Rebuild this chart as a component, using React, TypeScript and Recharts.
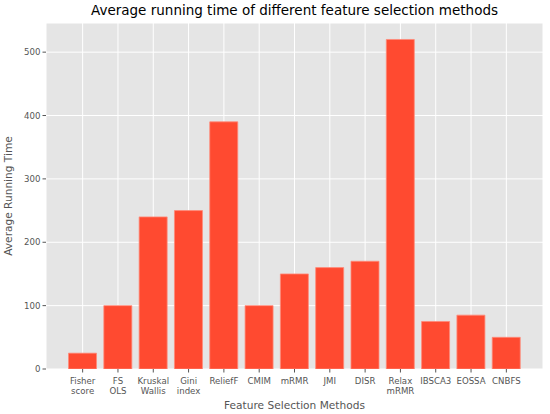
import React from 'react';
import { BarChart, Bar, XAxis, YAxis, CartesianGrid, Label } from 'recharts';

const methods = [
  'Fisher\nscore', 'FS\nOLS', 'Kruskal\nWallis', 'Gini\nindex', 'ReliefF', 'CMIM', 'mRMR',
  'JMI', 'DISR', 'Relax\nmRMR', 'IBSCA3', 'EOSSA', 'CNBFS',
];
const runningTimes = [25, 100, 240, 250, 390, 100, 150, 160, 170, 520, 75, 85, 50];
const yTicks = [0, 100, 200, 300, 400, 500];

const data = methods.map((m, i) => ({ method: m, time: runningTimes[i] }));

const FONT = '"DejaVu Sans", sans-serif';

const XTick = (props: any) => {
  const { x, y, payload } = props;
  const lines = String(payload.value).split('\n');
  return (
    <g transform={`translate(${x},${y})`}>
      <text x={0} y={0} textAnchor="middle" fill="#555555" fontSize={8.6} fontFamily={FONT}>
        {lines.map((l, i) => (
          <tspan key={i} x={0} dy={i === 0 ? 9 : 10.2}>{l}</tspan>
        ))}
      </text>
    </g>
  );
};

export default function App() {
  return (
    <div style={{ position: 'absolute', left: 0, top: 0, width: 550, height: 414, background: '#fff' }}>
      <div
        style={{
          position: 'absolute', left: 46, width: 497, top: 2, textAlign: 'center',
          fontFamily: FONT, fontSize: 13.5, color: '#000',
        }}
      >
        Average running time of different feature selection methods
      </div>
      <BarChart
        width={550}
        height={414}
        data={data}
        margin={{ top: 23, right: 7, bottom: 0, left: 0 }}
        barCategoryGap="10%"
      >
        <CartesianGrid fill="#E5E5E5" stroke="#ffffff" strokeWidth={1} />
        <XAxis
          dataKey="method"
          height={45}
          interval={0}
          padding={{ left: 19, right: 19 }}
          axisLine={false}
          tickLine={{ stroke: '#555555' }}
          tickSize={3.5}
          tick={<XTick />}
        >
          <Label value="Feature Selection Methods" position="insideBottom" offset={5}
            style={{ fontFamily: FONT, fontSize: 10.6, fill: '#555555' }} />
        </XAxis>
        <YAxis
          width={46}
          domain={[0, 546]}
          ticks={yTicks}
          allowDataOverflow
          axisLine={false}
          tickLine={{ stroke: '#555555' }}
          tickSize={3.5}
          tick={{ fill: '#555555', fontSize: 8.6, fontFamily: FONT }}
        >
          <Label value="Average Running Time" angle={-90} position="insideLeft" offset={8}
            style={{ textAnchor: 'middle', fontFamily: FONT, fontSize: 10.6, fill: '#555555' }} />
        </YAxis>
        <Bar dataKey="time" fill="#FF4A30" stroke="#FF8A78" strokeWidth={0.8} isAnimationActive={false} />
      </BarChart>
    </div>
  );
}
